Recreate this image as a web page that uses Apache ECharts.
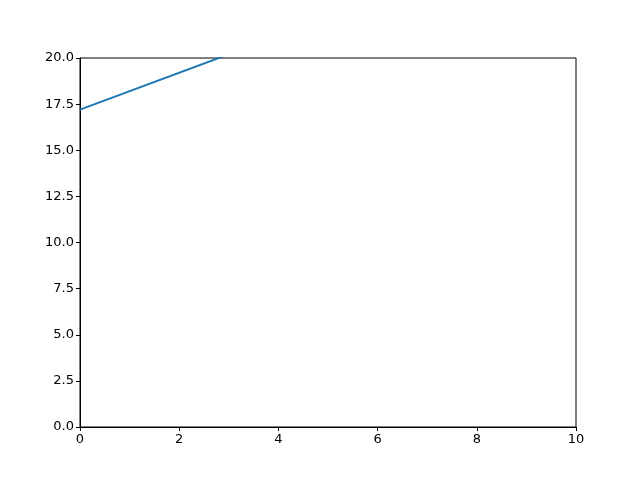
<!DOCTYPE html>
<html>
<head>
<meta charset="utf-8">
<script src="https://cdn.jsdelivr.net/npm/echarts@6/dist/echarts.min.js"></script>
<style>html,body{margin:0;padding:0;background:#fff}#c{width:640px;height:480px}</style>
</head>
<body>
<div id="c"></div>
<script>
const xValues = [0, 10];
const yValues = [17.2, 27.2];
const seriesName = 'line';

const chart = echarts.init(document.getElementById('c'), null, {renderer: 'canvas'});
const axisCommon = {
  axisLine: {show: true, onZero: false, lineStyle: {color: '#000', width: 1}},
  axisTick: {show: true, inside: false, length: 4, lineStyle: {color: '#000'}},
  axisLabel: {color: '#000', fontFamily: 'DejaVu Sans', fontSize: 13, margin: 6},
  splitLine: {show: false}
};
chart.setOption({
  animation: false,
  grid: {left: 80, right: 64, top: 58, bottom: 53, show: true, borderColor: '#000', borderWidth: 1, containLabel: false},
  xAxis: Object.assign({type: 'value', min: 0, max: 10, interval: 2}, axisCommon),
  yAxis: Object.assign({type: 'value', min: 0, max: 20, interval: 2.5}, axisCommon, {
    axisLabel: Object.assign({}, axisCommon.axisLabel, {formatter: v => v.toFixed(1)})
  }),
  series: [{
    name: seriesName,
    type: 'line',
    data: xValues.map((x, i) => [x, yValues[i]]),
    showSymbol: false,
    clip: true,
    lineStyle: {color: '#1f77b4', width: 2}
  }]
});
</script>
</body>
</html>
